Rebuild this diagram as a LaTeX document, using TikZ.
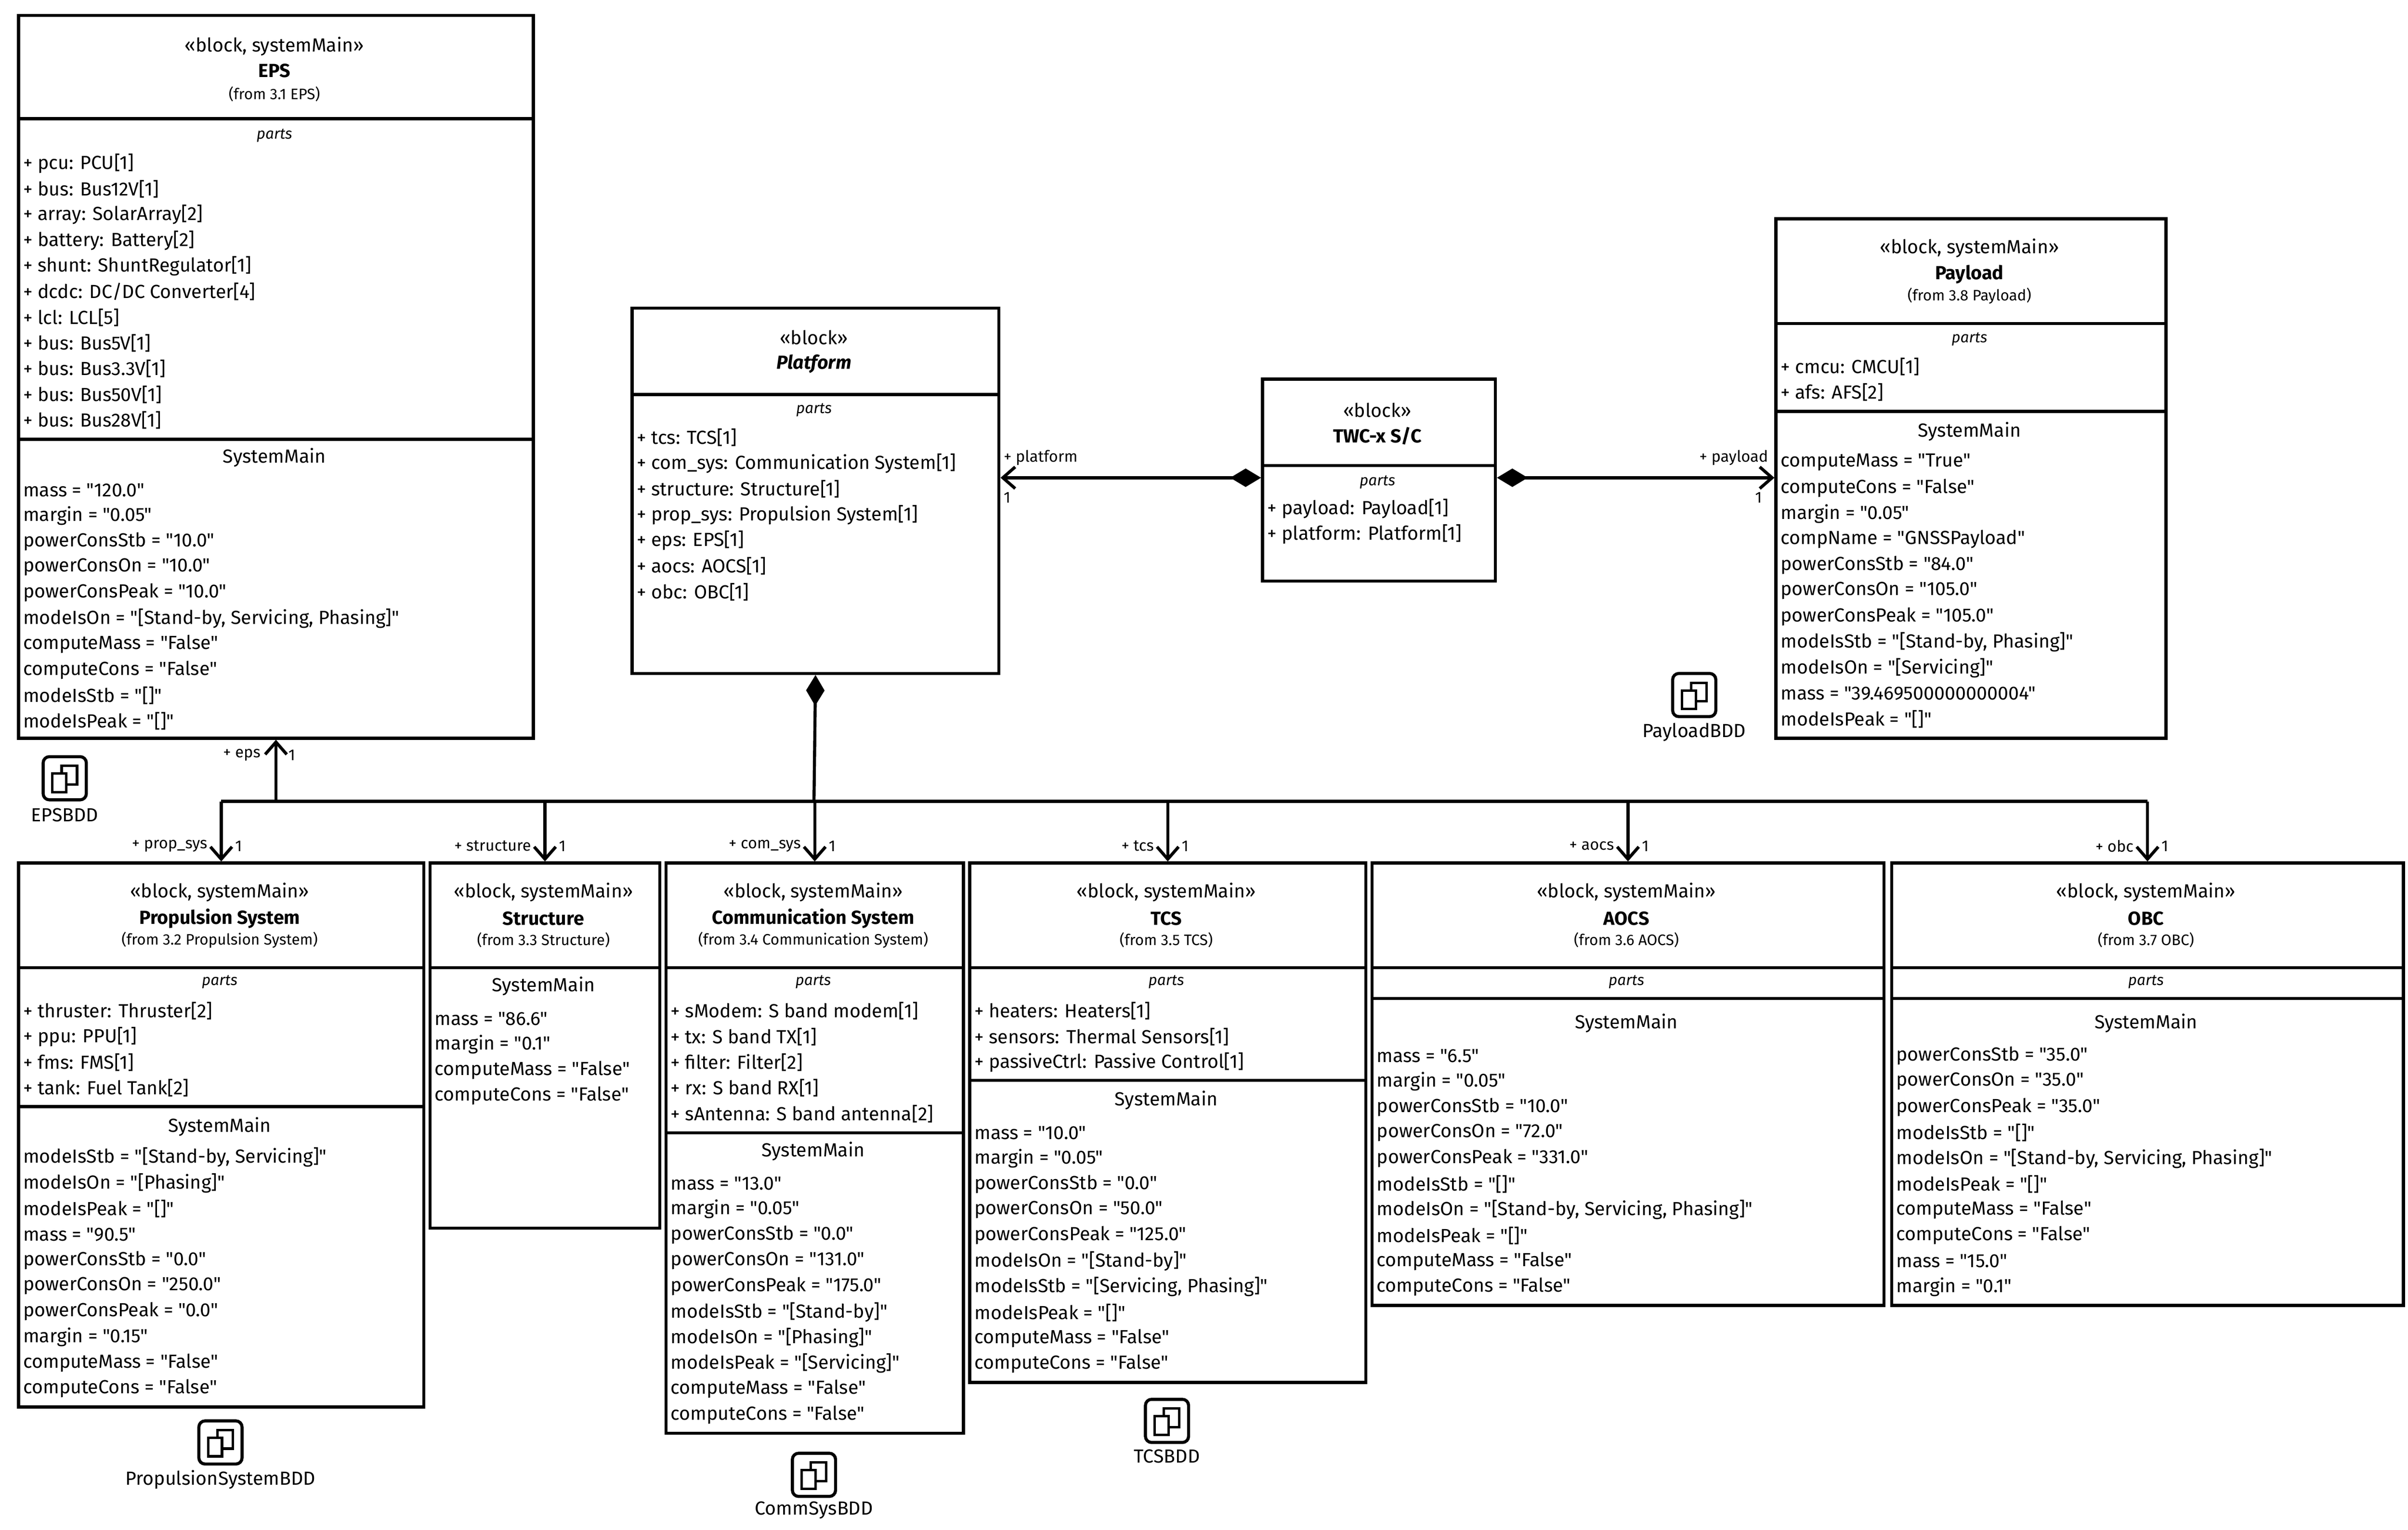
\documentclass[tikz,border=0pt]{standalone}
\usepackage{fontspec}
\setmainfont{Fira Sans}[Ligatures=TeXOff]
\usetikzlibrary{arrows.meta}
\tikzset{
  x=1mm, y=-1mm,
  every node/.style={inner sep=0pt},
  box/.style={draw, line width=2mm, anchor=north west, inner sep=0pt},
  txt/.style={anchor=west, font=\fontsize{35}{40}\selectfont},
  hd/.style={font=\fontsize{35}{40}\selectfont},
  nm/.style={font=\fontsize{35}{40}\selectfont\bfseries},
  fr/.style={font=\fontsize{28}{32}\selectfont},
  pt/.style={font=\fontsize{28}{32}\selectfont\itshape},
  lb/.style={font=\fontsize{29}{33}\selectfont},
  bdd/.style={font=\fontsize{35}{40}\selectfont},
  sep/.style={line width=2mm},
  comp/.style={line width=2mm, {Diamond[length=20mm,width=12mm,fill=black]}-{Straight Barb[length=8mm,width=14mm,line width=2mm]}},
  dep/.style={line width=2mm, -{Straight Barb[length=8mm,width=14mm,line width=2mm]}},
}
\newcommand\mkbox[5]{\node[box, minimum width={(#4-#2)*1mm}, minimum height={(#5-#3)*1mm}] (#1) at (#2,#3) {};}
\newcommand\lines[4]{\foreach \t [count=\i] in {#4} \node[txt] (#1-\i) at (#2,{#3+(\i-1)*16.67}) {\t};}
\newcommand\sepline[3]{\draw[sep] (#1,#3) -- (#2,#3);}
\newcommand\icon[3]{%
  \node[draw, line width=2mm, rounded corners=4mm, minimum size=28mm] (#1) at (#2,#3) {};
  \draw[line width=1.6mm] (#2-2,#3-8) rectangle (#2+8,#3+4);
  \draw[line width=1.6mm, fill=white] (#2-8,#3-3) rectangle (#2+1,#3+9);}
\begin{document}
\begin{tikzpicture}
\useasboundingbox (0,0) rectangle (1562,992.5);
\fill[white] (0,0) rectangle (1562,992.5);

% EPS
\mkbox{eps}{11}{9}{345}{478}
\node[hd] (eps-a) at (178,30) {«block, systemMain»};
\node[nm] (eps-b) at (178,46) {EPS};
\node[fr] (eps-c) at (178,61) {(from 3.1 EPS)};
\sepline{11}{345}{77}
\node[pt] (eps-p) at (178,88) {parts};
\lines{epsp}{15}{106}{{+ pcu: PCU[1]},{+ bus: Bus12V[1]},{+ array: SolarArray[2]},{+ battery: Battery[2]},{+ shunt: ShuntRegulator[1]},{+ dcdc: DC/DC Converter[4]},{+ lcl: LCL[5]},{+ bus: Bus5V[1]},{+ bus: Bus3.3V[1]},{+ bus: Bus50V[1]},{+ bus: Bus28V[1]}}
\sepline{11}{345}{285}
\node[hd] (eps-s) at (178,297) {SystemMain};
\lines{epsv}{15}{318}{{mass = "120.0"},{margin = "0.05"},{powerConsStb = "10.0"},{powerConsOn = "10.0"},{powerConsPeak = "10.0"},{modeIsOn = "[Stand-by, Servicing, Phasing]"},{computeMass = "False"},{computeCons = "False"},{modeIsStb = "[]"},{modeIsPeak = "[]"}}
\icon{epsi}{42}{505}
\node[bdd] (epsl) at (42,529) {EPSBDD};

% Platform
\mkbox{plat}{409}{199}{647}{436}
\node[hd] (plat-a) at (528,219) {«block»};
\node[nm] (plat-b) at (528,236) {\itshape Platform};
\sepline{409}{647}{256}
\node[pt] (plat-p) at (528,266) {parts};
\lines{platp}{413}{284}{{+ tcs: TCS[1]},{+ com\_sys: Communication System[1]},{+ structure: Structure[1]},{+ prop\_sys: Propulsion System[1]},{+ eps: EPS[1]},{+ aocs: AOCS[1]},{+ obc: OBC[1]}}

% TWC
\mkbox{twc}{818}{245}{969}{376}
\node[hd] (twc-a) at (893.5,266) {«block»};
\node[nm] (twc-b) at (893.5,283) {TWC-x S/C};
\sepline{818}{969}{302}
\node[pt] (twc-p) at (893.5,313) {parts};
\lines{twcp}{822}{330}{{+ payload: Payload[1]},{+ platform: Platform[1]}}

% Payload
\mkbox{pay}{1151}{141}{1404}{478}
\node[hd] (pay-a) at (1277.5,161) {«block, systemMain»};
\node[nm] (pay-b) at (1277.5,178) {Payload};
\node[fr] (pay-c) at (1277.5,192) {(from 3.8 Payload)};
\sepline{1151}{1404}{210}
\node[pt] (pay-p) at (1277.5,220) {parts};
\lines{payp}{1155}{238}{{+ cmcu: CMCU[1]},{+ afs: AFS[2]}}
\sepline{1151}{1404}{267}
\node[hd] (pay-s) at (1277.5,280) {SystemMain};
\lines{payv}{1155}{300}{{computeMass = "True"},{computeCons = "False"},{margin = "0.05"},{compName = "GNSSPayload"},{powerConsStb = "84.0"},{powerConsOn = "105.0"},{powerConsPeak = "105.0"},{modeIsStb = "[Stand-by, Phasing]"},{modeIsOn = "[Servicing]"},{mass = "39.469500000000004"},{modeIsPeak = "[]"}}
\icon{payi}{1099}{451}
\node[bdd] (payl) at (1099,475) {PayloadBDD};

% Propulsion
\mkbox{prop}{11}{559}{274}{912}
\node[hd] (prop-a) at (142.5,579) {«block, systemMain»};
\node[nm] (prop-b) at (142.5,596) {Propulsion System};
\node[fr] (prop-c) at (142.5,610) {(from 3.2 Propulsion System)};
\sepline{11}{274}{628}
\node[pt] (prop-p) at (142.5,637) {parts};
\lines{propp}{15}{656}{{+ thruster: Thruster[2]},{+ ppu: PPU[1]},{+ fms: FMS[1]},{+ tank: Fuel Tank[2]}}
\sepline{11}{274}{718}
\node[hd] (prop-s) at (142.5,731) {SystemMain};
\lines{propv}{15}{751}{{modeIsStb = "[Stand-by, Servicing]"},{modeIsOn = "[Phasing]"},{modeIsPeak = "[]"},{mass = "90.5"},{powerConsStb = "0.0"},{powerConsOn = "250.0"},{powerConsPeak = "0.0"},{margin = "0.15"},{computeMass = "False"},{computeCons = "False"}}
\icon{propi}{143}{936}
\node[bdd] (propl) at (143,960) {PropulsionSystemBDD};

% Structure
\mkbox{str}{278}{559}{427}{796}
\node[hd] (str-a) at (352.5,579) {«block, systemMain»};
\node[nm] (str-b) at (352.5,596) {Structure};
\node[fr] (str-c) at (352.5,610) {(from 3.3 Structure)};
\sepline{278}{427}{628}
\node[hd] (str-s) at (352.5,640) {SystemMain};
\lines{strv}{282}{661}{{mass = "86.6"},{margin = "0.1"},{computeMass = "False"},{computeCons = "False"}}

% Communication System
\mkbox{com}{431}{559}{624}{929}
\node[hd] (com-a) at (527.5,579) {«block, systemMain»};
\node[nm] (com-b) at (527.5,596) {Communication System};
\node[fr] (com-c) at (527.5,610) {(from 3.4 Communication System)};
\sepline{431}{624}{628}
\node[pt] (com-p) at (527.5,637) {parts};
\lines{comp}{435}{656}{{+ sModem: S band modem[1]},{+ tx: S band TX[1]},{+ filter: Filter[2]},{+ rx: S band RX[1]},{+ sAntenna: S band antenna[2]}}
\sepline{431}{624}{735}
\node[hd] (com-s) at (527.5,747) {SystemMain};
\lines{comv}{435}{768}{{mass = "13.0"},{margin = "0.05"},{powerConsStb = "0.0"},{powerConsOn = "131.0"},{powerConsPeak = "175.0"},{modeIsStb = "[Stand-by]"},{modeIsOn = "[Phasing]"},{modeIsPeak = "[Servicing]"},{computeMass = "False"},{computeCons = "False"}}
\icon{comi}{528}{957}
\node[bdd] (coml) at (528,980) {CommSysBDD};

% TCS
\mkbox{tcs}{628}{559}{885}{896}
\node[hd] (tcs-a) at (756.5,579) {«block, systemMain»};
\node[nm] (tcs-b) at (756.5,596) {TCS};
\node[fr] (tcs-c) at (756.5,610) {(from 3.5 TCS)};
\sepline{628}{885}{628}
\node[pt] (tcs-p) at (756.5,637) {parts};
\lines{tcsp}{632}{656}{{+ heaters: Heaters[1]},{+ sensors: Thermal Sensors[1]},{+ passiveCtrl: Passive Control[1]}}
\sepline{628}{885}{701}
\node[hd] (tcs-s) at (756.5,714) {SystemMain};
\lines{tcsv}{632}{735}{{mass = "10.0"},{margin = "0.05"},{powerConsStb = "0.0"},{powerConsOn = "50.0"},{powerConsPeak = "125.0"},{modeIsOn = "[Stand-by]"},{modeIsStb = "[Servicing, Phasing]"},{modeIsPeak = "[]"},{computeMass = "False"},{computeCons = "False"}}
\icon{tcsi}{757}{922}
\node[bdd] (tcsl) at (757,945) {TCSBDD};

% AOCS
\mkbox{aocs}{889}{559}{1221}{846}
\node[hd] (aocs-a) at (1055,579) {«block, systemMain»};
\node[nm] (aocs-b) at (1055,596) {AOCS};
\node[fr] (aocs-c) at (1055,610) {(from 3.6 AOCS)};
\sepline{889}{1221}{628}
\node[pt] (aocs-p) at (1055,637) {parts};
\sepline{889}{1221}{648}
\node[hd] (aocs-s) at (1055,664) {SystemMain};
\lines{aocsv}{893}{685}{{mass = "6.5"},{margin = "0.05"},{powerConsStb = "10.0"},{powerConsOn = "72.0"},{powerConsPeak = "331.0"},{modeIsStb = "[]"},{modeIsOn = "[Stand-by, Servicing, Phasing]"},{modeIsPeak = "[]"},{computeMass = "False"},{computeCons = "False"}}

% OBC
\mkbox{obc}{1226}{559}{1558}{846}
\node[hd] (obc-a) at (1392,579) {«block, systemMain»};
\node[nm] (obc-b) at (1392,596) {OBC};
\node[fr] (obc-c) at (1392,610) {(from 3.7 OBC)};
\sepline{1226}{1558}{628}
\node[pt] (obc-p) at (1392,637) {parts};
\sepline{1226}{1558}{648}
\node[hd] (obc-s) at (1392,664) {SystemMain};
\lines{obcv}{1230}{685}{{powerConsStb = "35.0"},{powerConsOn = "35.0"},{powerConsPeak = "35.0"},{modeIsStb = "[]"},{modeIsOn = "[Stand-by, Servicing, Phasing]"},{modeIsPeak = "[]"},{computeMass = "False"},{computeCons = "False"},{mass = "15.0"},{margin = "0.1"}}

% connectors
\draw[comp] (twc.west|-0,310) -- (plat.east|-0,310);
\node[lb, anchor=west] (l-plat) at (651,297) {+ platform};
\node[lb, anchor=west] (m-plat) at (651,323) {1};
\draw[comp] (twc.east|-0,310) -- (pay.west|-0,310);
\node[lb, anchor=east] (l-pay) at (1147,297) {+ payload};
\node[lb, anchor=east] (m-pay) at (1143,323) {1};

\coordinate (bus) at (528,520);
\draw[line width=2mm, {Diamond[length=20mm,width=12mm,fill=black]}-] (plat.south) -- (bus);
\draw[line width=2mm] (prop.north|-bus) -- (obc.north|-bus);
\foreach \n/\l in {prop/prop\_sys, str/structure, com/com\_sys, tcs/tcs, aocs/aocs, obc/obc}{
  \draw[dep] (\n.north|-bus) -- (\n.north);
  \node[lb, anchor=east] (l-\n) at ([xshift=-9mm,yshift=10mm]\n.north) {+ \l};
  \node[lb, anchor=west] (m-\n) at ([xshift=9mm,yshift=10mm]\n.north) {1};
}
\draw[dep] (eps.south|-bus) -- (eps.south);
\node[lb, anchor=east] (l-eps) at (169,490) {+ eps};
\node[lb, anchor=west] (m-eps) at (187,490) {1};
\end{tikzpicture}
\end{document}
